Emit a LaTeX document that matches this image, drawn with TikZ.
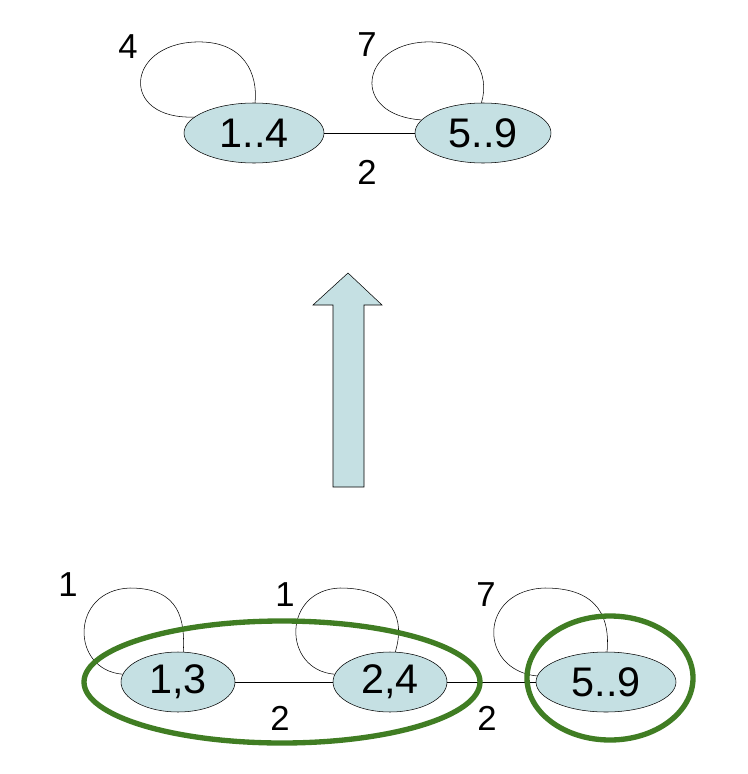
\documentclass[tikz,border=0pt]{standalone}
\usepackage{fontspec}
\setmainfont{Liberation Sans}
\usetikzlibrary{shapes.geometric}
\definecolor{nodefill}{RGB}{197,224,227}
\definecolor{grp}{RGB}{64,125,35}
\begin{document}
\begin{tikzpicture}[x=0.75pt,y=-0.75pt,
  st/.style={ellipse,draw,fill=nodefill,inner sep=0,font=\fontsize{31}{31}\selectfont},
  lab/.style={font=\fontsize{26}{26}\selectfont},
  grpring/.style={ellipse,draw=grp,line width=4pt,inner sep=0}]
\useasboundingbox (0,0) rectangle (748,774);
% top
\node[st,minimum width=105pt,minimum height=45pt] (a) at (254,133) {1..4};
\node[st,minimum width=102pt,minimum height=45pt] (b) at (483,133) {5..9};
\draw (a) -- (b);
\node[lab] (la) at (367,172) {2};
\draw (a.165) .. controls (120,120) and (125,45) .. (195,42) .. controls (245,40) and (258,75) .. (a.88);
\node[lab] (l4) at (128,47) {4};
\draw (b.168) .. controls (350,115) and (360,45) .. (425,42) .. controls (475,40) and (490,75) .. (b.93);
\node[lab] (l7) at (367,45) {7};
% arrow
\draw[fill=nodefill] (333,487) -- (364,487) -- (364,305) -- (382,305) -- (348,273) -- (313,305) -- (333,305) -- cycle;
% bottom
\node[st,minimum width=85.5pt,minimum height=45pt] (c) at (178,682) {1,3};
\node[st,minimum width=85.5pt,minimum height=45pt] (d) at (390,682) {2,4};
\node[st,minimum width=105pt,minimum height=45pt] (e) at (606,682) {5..9};
\draw (c) -- (d);
\draw (d) -- (e);
\node[lab] (l2a) at (280,718) {2};
\node[lab] (l2b) at (487,718) {2};
\draw (c.172) .. controls (70,670) and (70,590) .. (130,588) .. controls (180,588) and (185,620) .. (c.80);
\node[lab] (l1a) at (68,585) {1};
\draw (d.172) .. controls (282,670) and (282,590) .. (340,588) .. controls (395,588) and (405,620) .. (d.80);
\node[lab] (l1b) at (285,595) {1};
\draw (e.175) .. controls (478,670) and (478,590) .. (545,588) .. controls (600,588) and (610,620) .. (e.88);
\node[lab] (l7b) at (486,595) {7};
\node[grpring,minimum width=297pt,minimum height=91.5pt] (g1) at (282,682) {};
\node[grpring,minimum width=124.5pt,minimum height=93pt] (g2) at (610,678) {};
\end{tikzpicture}
\end{document}
